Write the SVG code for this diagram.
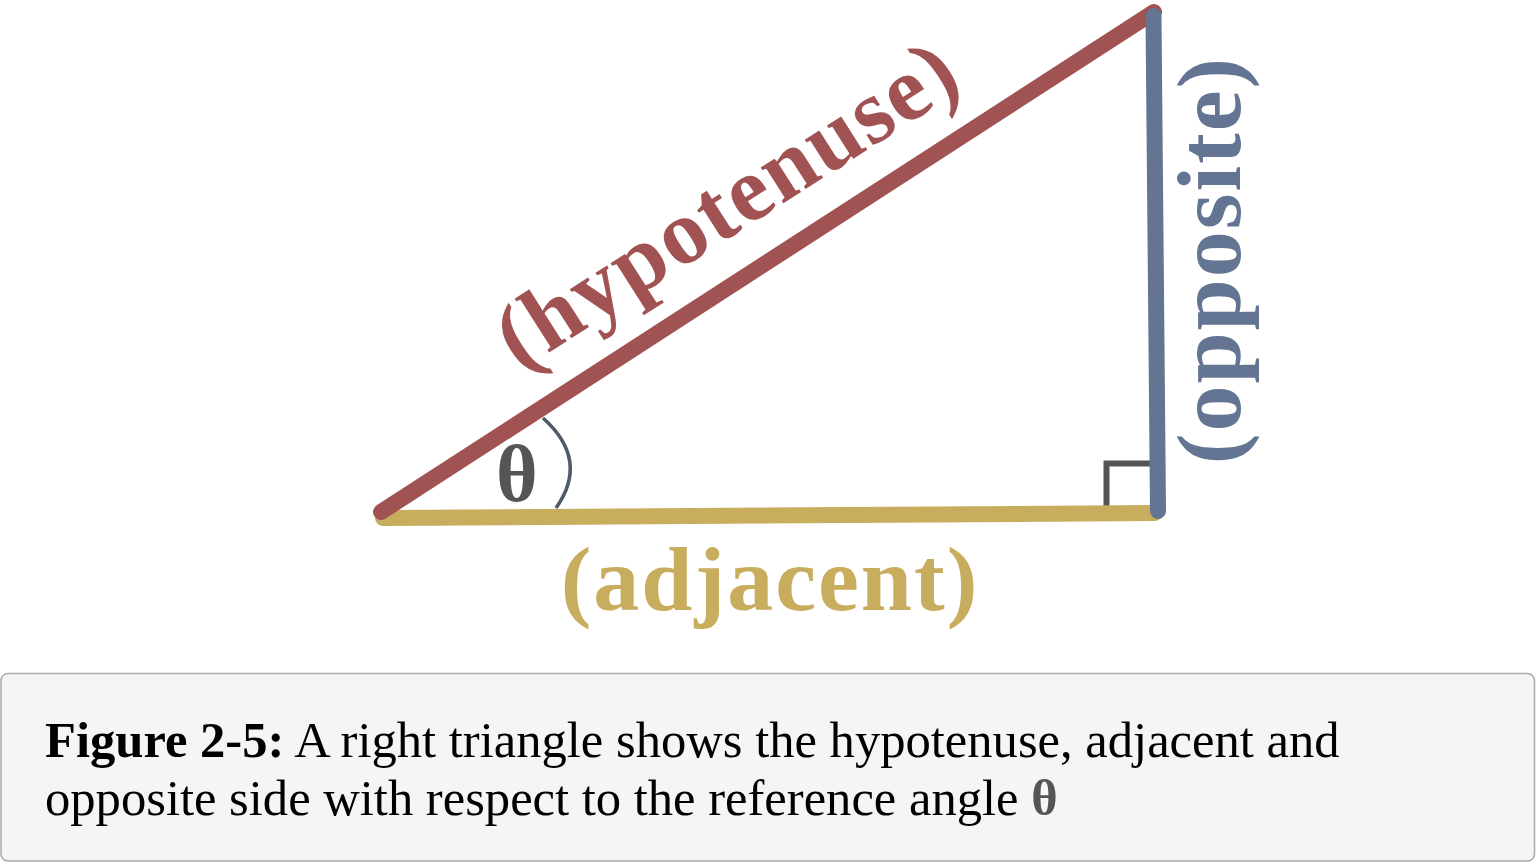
<svg xmlns="http://www.w3.org/2000/svg" width="1536" height="863" viewBox="0 0 1536 863">
<style>
.lbl{font-family:"Liberation Serif","Times New Roman",serif;font-weight:bold;font-size:92px;letter-spacing:2px;text-anchor:middle}
.cap{font-family:"Liberation Serif","Times New Roman",serif;font-size:50.6px;fill:#000}
.side{fill:none;stroke-linecap:round;stroke-width:16}
</style>
<rect width="1536" height="863" fill="#ffffff"/>
<g id="connectors">
<polyline id="right-angle" points="1106.5,512 1106.5,463.5 1150,463.5" fill="none" stroke="#555555" stroke-width="6"/>
<path id="angle-arc" d="M 543 418 Q 590 460 556 508" fill="none" stroke="#4f5a6a" stroke-width="3.5"/>
<line id="adjacent" class="side" x1="383" y1="518" x2="1155" y2="513" stroke="#c8ad5e"/>
<line id="hypotenuse" class="side" x1="381" y1="512" x2="1154" y2="12" stroke="#a15353" stroke-width="15"/>
<line id="opposite" class="side" x1="1153.5" y1="16" x2="1158" y2="511" stroke="#637592"/>
</g>
<g id="label-hypotenuse">
<text class="lbl" fill="#a15353" transform="translate(743,229) rotate(-32.5)" letter-spacing="0">(hypotenuse)</text>
</g>
<g id="label-opposite">
<text class="lbl" fill="#637592" transform="translate(1240,260) rotate(-90)">(opposite)</text>
</g>
<g id="label-adjacent">
<text class="lbl" fill="#c8ad5e" x="770" y="610">(adjacent)</text>
</g>
<g id="label-theta">
<text x="517" y="501" font-family="Liberation Serif, serif" font-weight="bold" font-size="80" fill="#555555" text-anchor="middle">θ</text>
</g>
<g id="caption">
<rect x="1" y="673.5" width="1533.5" height="187.5" rx="7" fill="#f5f5f5" stroke="#aaaaaa" stroke-width="1.5"/>
<text class="cap" x="45" y="757"><tspan font-weight="bold">Figure 2-5:</tspan> A right triangle shows the hypotenuse, adjacent and</text>
<text class="cap" x="45" y="815">opposite side with respect to the reference angle <tspan font-weight="bold" fill="#555555">θ</tspan></text>
</g>
</svg>
